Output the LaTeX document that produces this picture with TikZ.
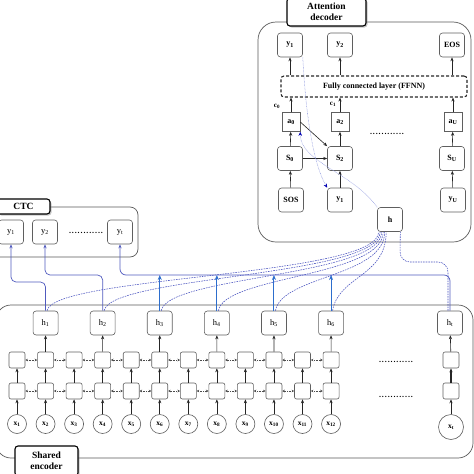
\documentclass[tikz,border=0pt]{standalone}
\usepackage{fontspec}
\setmainfont{Liberation Serif}
\usetikzlibrary{arrows.meta,shadows}
\definecolor{bline}{RGB}{80,90,190}
\definecolor{barr}{RGB}{45,110,205}
\definecolor{bdash}{RGB}{70,80,190}
\definecolor{lblue}{RGB}{150,160,225}
\definecolor{gbord}{RGB}{95,95,95}
\newcommand{\dotrow}{.\kern0.9pt.\kern0.9pt.\kern0.9pt.\kern0.9pt.\kern0.9pt.\kern0.9pt.\kern0.9pt.\kern0.9pt.\kern0.9pt.\kern0.9pt.\kern0.9pt.}
\begin{document}
\begin{tikzpicture}[x=1pt,y=-1pt,
  nbox/.style={draw=gbord, rounded corners=3pt, fill=white, line width=0.6pt, minimum width=25pt, minimum height=24pt, inner sep=1pt, font=\bfseries\fontsize{8}{9}\selectfont},
  hbox/.style={nbox, font=\fontsize{8.5}{9}\selectfont},
  sbox/.style={draw=gbord, rounded corners=2pt, fill=white, line width=0.6pt, minimum width=16pt, minimum height=16pt, inner sep=0pt},
  abox/.style={draw=gbord, fill=white, line width=0.6pt, minimum width=18pt, minimum height=19pt, inner sep=0pt, font=\bfseries\fontsize{8}{9}\selectfont},
  xcirc/.style={circle, draw=gbord, fill=white, line width=0.6pt, minimum size=19pt, inner sep=0pt, font=\bfseries\fontsize{7.5}{9}\selectfont},
  lab/.style={draw=black, line width=1.1pt, rounded corners=3pt, fill=white, drop shadow={shadow xshift=1.5pt, shadow yshift=-1.5pt, fill=black!45}, font=\bfseries\fontsize{9.5}{11}\selectfont, align=center, inner sep=0pt},
  grp/.style={draw=black!65, line width=0.7pt},
  arr/.style={-{Stealth[length=4pt,width=3.2pt]}, line width=0.6pt, draw=black!85},
  harr/.style={{Stealth[length=2.6pt,width=2.6pt]}-{Stealth[length=2.6pt,width=2.6pt]}, dash pattern=on 0.8pt off 0.8pt, draw=black!70, line width=0.5pt},
  bl/.style={-{Stealth[length=4pt,width=3.2pt]}, draw=bline, line width=0.7pt, rounded corners=5pt},
  blarr/.style={-{Stealth[length=5pt,width=4pt]}, draw=barr, line width=1pt},
  bd/.style={draw=bdash, line width=0.55pt, dash pattern=on 1.6pt off 1pt},
  ld/.style={draw=lblue, line width=0.5pt, dash pattern=on 0.7pt off 0.7pt, -{Stealth[length=4pt,width=3.5pt,color=blue!70!black]}},
  dots/.style={font=\bfseries\fontsize{8}{9}\selectfont, inner sep=0pt},
]
\useasboundingbox (0,0) rectangle (474,474);

% ---------- groups ----------
\draw[grp, rounded corners=18pt] (258,22) rectangle (471,242);
\draw[grp, rounded corners=8pt] (-10,207) rectangle (138,257);
\draw[grp, rounded corners=15pt] (-4,305) rectangle (473,458);

% ---------- decoder ----------
\node[nbox] (do1) at (290,45) {y\textsubscript{1}};
\node[nbox] (do2) at (340,45) {y\textsubscript{2}};
\node[nbox] (doE) at (452,45) {EOS};
\node[draw=black!85, dash pattern=on 3pt off 2pt, line width=1.1pt, rounded corners=3pt, minimum width=186pt, minimum height=21pt, font=\bfseries\fontsize{8}{9}\selectfont] (ffnn) at (374,86.5) {Fully connected layer (FFNN)};
\node[abox] (a0) at (291,122) {a\textsubscript{0}};
\node[abox] (a2) at (340,122) {a\textsubscript{2}};
\node[abox] (aU) at (453,122) {a\textsubscript{U}};
\node[nbox] (s0) at (290,158.5) {S\textsubscript{0}};
\node[nbox] (s2) at (340,158.5) {S\textsubscript{2}};
\node[nbox] (sU) at (452,158.5) {S\textsubscript{U}};
\node[nbox] (sos) at (291,200) {SOS};
\node[nbox] (di1) at (340,200) {y\textsubscript{1}};
\node[nbox] (diU) at (453,200) {y\textsubscript{U}};
\node[nbox] (h) at (390,219.5) {h};
\node[font=\bfseries\fontsize{7}{8}\selectfont] (c0) at (277,106) {c\textsubscript{0}};
\node[font=\bfseries\fontsize{7}{8}\selectfont] (c1) at (333,104) {c\textsubscript{1}};
\node[dots] (ddots) at (387,134) {\dotrow};

\draw[arr] (sos) -- (s0);
\draw[arr] (s0) -- (a0);
\draw[arr] (a0.north) -- (a0.north |- ffnn.south);
\draw[arr] (ffnn.north -| do1) -- (do1.south);
\draw[arr] (di1) -- (s2);
\draw[arr] (s2) -- (a2);
\draw[arr] (a2.north) -- (a2.north |- ffnn.south);
\draw[arr] (ffnn.north -| do2) -- (do2.south);
\draw[arr] (diU) -- (sU);
\draw[arr] (sU) -- (aU);
\draw[arr] (aU.north) -- (aU.north |- ffnn.south);
\draw[arr] (ffnn.north -| doE) -- (doE.south);
\draw[arr] (s0) -- (s2);
\draw[arr] (a0.east) -- (s2.north west);

\draw[ld] (h.north west) .. controls (352,172) and (300,162) .. (a0.south east);
\draw[ld] (do1.south east) .. controls (306,120) and (314,165) .. (di1.north west);

% ---------- CTC ----------
\node[hbox] (yc1) at (11,232) {y\textsubscript{1}};
\node[hbox] (yc2) at (45,232) {y\textsubscript{2}};
\node[hbox] (yct) at (120,232) {y\textsubscript{t}};
\node[dots] (cdots) at (86,233) {\dotrow};

% ---------- encoder ----------
\foreach \i in {1,...,12} {
  \pgfmathsetmacro\xx{17+(\i-1)*28.55}
  \node[sbox] (u\i) at (\xx,360) {};
  \node[sbox] (l\i) at (\xx,391) {};
  \node[xcirc] (x\i) at (\xx,424) {x\textsubscript{\i}};
}
\node[sbox] (ut) at (451,360) {};
\node[sbox] (lt) at (451,391) {};
\node[xcirc, minimum size=25pt] (xt) at (451,427) {x\textsubscript{t}};
\node[hbox] (h1) at (45.55,323) {h\textsubscript{1}};
\node[hbox] (h2) at (102.65,323) {h\textsubscript{2}};
\node[hbox] (h3) at (159.75,323) {h\textsubscript{3}};
\node[hbox] (h4) at (216.85,323) {h\textsubscript{4}};
\node[hbox] (h5) at (273.95,323) {h\textsubscript{5}};
\node[hbox] (h6) at (331.05,323) {h\textsubscript{6}};
\node[hbox] (ht) at (450,323) {h\textsubscript{t}};
\node[dots] (edots1) at (396,362) {\dotrow};
\node[dots] (edots2) at (396,397) {\dotrow};

\foreach \i in {1,...,12} {
  \draw[arr] (x\i) -- (l\i);
  \draw[arr] (l\i) -- (u\i);
}
\foreach \i [count=\k] in {2,4,...,12} \draw[arr] (u\i) -- (h\k);
\foreach \i [evaluate=\i as \j using int(\i+1)] in {1,...,11} {
  \draw[harr] (u\i) -- (u\j);
  \draw[harr] (l\i) -- (l\j);
}
\draw[arr] (xt) -- (lt);
\draw[arr, line width=1.3pt] (lt) -- (ut);
\draw[arr] (ut) -- (ht);

% ---------- blue connectors ----------
\foreach \k/\e in {1/1.5,2/3,3/4.5,4/6,5/7.5,6/9}
  \draw[bd] ([xshift=1.5pt]h\k.north) .. controls +(6,-35) and +(0,45) .. ([xshift=\e pt]h.south west);
\draw[bd, rounded corners=10pt] ([xshift=-2pt]ht.north) -- (448,262) -- (400,262) -- ([xshift=-2.5pt]h.south east);

\coordinate (b3) at (159.75,275);
\coordinate (b4) at (216.85,275);
\coordinate (b5) at (273.95,275);
\coordinate (b6) at (331.05,275);
\draw[bl] (h1.north) -- (45.55,282) -- (11,282) -- (yc1.south);
\draw[bl] (h2.north) -- (102.65,275) -- (45,275) -- (yc2.south);
\draw[bl, rounded corners=6pt] (ht.north) -- (450,275) -- (120,275) -- (yct.south);
\foreach \k in {3,4,5,6} \draw[blarr] (h\k.north) -- (b\k);

% ---------- labels ----------
\node[lab, minimum width=79pt, minimum height=28pt] (ldec) at (326.5,12) {Attention\\decoder};
\node[lab, minimum width=53pt, minimum height=15pt] (lctc) at (23.5,206.5) {CTC};
\node[lab, minimum width=63pt, minimum height=30pt] (lenc) at (46.5,461) {Shared\\encoder};
\end{tikzpicture}
\end{document}
